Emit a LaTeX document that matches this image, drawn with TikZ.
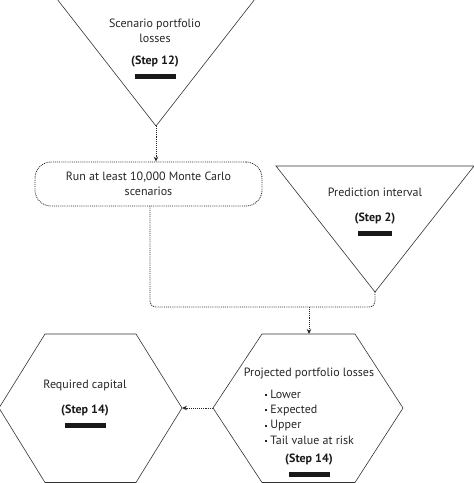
\documentclass[tikz,border=0pt]{standalone}
\usepackage{fontspec}
\setmainfont{PT Sans}
\usetikzlibrary{arrows.meta,positioning}
\newcommand{\blt}{\raisebox{2pt}{\rule{2.2pt}{2.2pt}}\hspace{3pt}}

\begin{document}
\begin{tikzpicture}[x=1pt,y=-1pt,
  txt/.style={align=center,inner sep=0pt,text=black!85,font=\fontsize{12}{14.5}\selectfont},
  steplbl/.style={inner sep=0pt,text=black!90,font=\fontsize{12}{14}\selectfont\bfseries},
  stepbar/.style={fill=black!90,inner sep=0pt,minimum width=41pt,minimum height=5pt},
  edge/.style={line width=0.6pt,black!80},
  dots/.style={line width=0.85pt,black!85,dash pattern=on 0.9pt off 1pt},
  flow/.style={dots,-{Stealth[length=5pt,width=4.5pt]}}]
\useasboundingbox (0,0) rectangle (474,483);
\clip (0,0) rectangle (474,483);
% triangles
\draw[edge] (57,-1) -- (156,126) coordinate (scentip) -- (255,-1) -- cycle;
\draw[edge] (276,166) -- (375,292) coordinate (predtip) -- (474,166) -- cycle;
% hexagons
\draw[edge] (262,334) coordinate (projtop) -- (355,334) -- (403,408) -- (355,482.5) -- (262,482.5) -- (213,408) coordinate (projleft) -- cycle;
\draw[edge] (45,334) -- (136,334) -- (182,408) coordinate (capright) -- (136,482.5) -- (45,482.5) -- (-1,408) -- cycle;
% texts
\node[txt] (scen) at (155,31) {Scenario portfolio\\losses};
\node[steplbl] (scenstep) at (155,62) {(Step 12)};
\node[stepbar,below=6pt of scenstep] {};
\node[txt,draw,dots,minimum width=227pt,minimum height=44pt,rounded corners=16pt] (run) at (148.5,184) {Run at least 10,000 Monte Carlo\\scenarios};
\node[txt] (pred) at (375,192) {Prediction interval};
\node[steplbl] (predstep) at (375,219) {(Step 2)};
\node[stepbar,minimum width=34pt,below=6pt of predstep] {};
\node[txt] (proj) at (309,374) {Projected portfolio losses};
\node[txt,align=left,anchor=west,font=\fontsize{12}{15.3}\selectfont] (projlist) at (265,417) {\blt Lower\\\blt Expected\\\blt Upper\\\blt Tail value at risk};
\node[steplbl] (projstep) at (309,460) {(Step 14)};
\node[stepbar,below=6pt of projstep] {};
\node[txt] (cap) at (85,385) {Required capital};
\node[steplbl] (capstep) at (85,411) {(Step 14)};
\node[stepbar,below=6pt of capstep] {};
% connectors
\draw[flow] (scentip) -- (run.north -| scentip);
\coordinate (join) at (309,307);
\draw[dots,rounded corners=6pt] (run.south -| 150,0) |- (join) -| (predtip);
\draw[flow] (join) -- (join |- projtop);
\draw[flow] (projleft) -- (capright);
\end{tikzpicture}
\end{document}
